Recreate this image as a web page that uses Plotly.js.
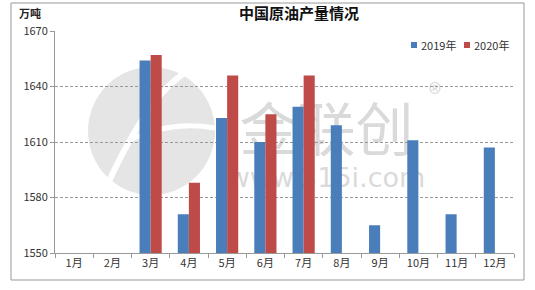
<!DOCTYPE html>
<html><head><meta charset="utf-8">
<script src="https://cdn.plot.ly/plotly-3.0.1.min.js"></script>
<style>html,body{margin:0;padding:0;background:#fff}#chart{width:535px;height:290px}</style>
</head><body><div id="chart"></div>
<script>
const months = ['1月','2月','3月','4月','5月','6月','7月','8月','9月','10月','11月','12月'];
const prod2019 = [null,null,1654,1571,1623,1610,1629,1619,1565,1611,1571,1607];
const prod2020 = [null,null,1657,1588,1646,1625,1646,null,null,null,null,null];
const yTicks = [1550,1580,1610,1640,1670];
const seriesNames = ['2019年','2020年'];
const seriesColors = ['#4A7EBB','#BE4B48'];

const W=535,H=290,L=55,R=514,T=31,B=253;
const px=x=>(x-L)/(R-L), py=y=>(B-y)/(B-T);
const font='"Noto Sans CJK SC", "Noto Sans", sans-serif';

const traces=[
 {type:'bar',x:months,y:prod2019,name:seriesNames[0],marker:{color:seriesColors[0]}},
 {type:'bar',x:months,y:prod2020,name:seriesNames[1],marker:{color:seriesColors[1]}}
];
// compact legend (Excel style): small squares + labels
const legX=[411,464], legY=45;
const legShapes=seriesNames.map((n,i)=>({type:'rect',xref:'paper',yref:'paper',x0:px(legX[i]),x1:px(legX[i]+6),y0:py(legY+3),y1:py(legY-3),line:{width:0},fillcolor:seriesColors[i]}));
const legAnn=seriesNames.map((n,i)=>({text:n,xref:'paper',yref:'paper',x:px(legX[i]+8),y:py(legY),xanchor:'left',yanchor:'middle',showarrow:false,font:{size:11,color:'#333'}}));

const layout={
 width:W,height:H,margin:{l:L,r:W-R,t:T,b:H-B},
 paper_bgcolor:'#fff',plot_bgcolor:'rgba(0,0,0,0)',
 font:{family:font,size:11,color:'#333'},
 showlegend:false,
 barmode:'group',bargap:0.42,bargroupgap:0,
 title:{text:'<b>中国原油产量情况</b>',x:299/W,xanchor:'center',y:1-14/H,yanchor:'middle',font:{size:15,color:'#111',family:font}},
 xaxis:{type:'category',showgrid:false,showline:true,linecolor:'#999',linewidth:1,ticks:'outside',tickson:'boundaries',ticklen:4,tickcolor:'#999',tickfont:{size:11,color:'#333'},fixedrange:true},
 yaxis:{range:[1550,1670],tickvals:yTicks,showgrid:true,gridcolor:'#999',griddash:'3px,2px',gridwidth:1,showline:true,linecolor:'#999',linewidth:1,ticks:'outside',ticklen:4,tickcolor:'#999',zeroline:false,tickfont:{size:11,color:'#333'}},
 annotations:[
  {text:'<b>万吨</b>',xref:'paper',yref:'paper',x:px(30),y:py(13),xanchor:'center',yanchor:'middle',showarrow:false,font:{size:11,color:'#222'}},
  ...legAnn
 ],
 shapes:[
  {type:'rect',xref:'paper',yref:'paper',x0:px(11),x1:px(524),y0:py(280),y1:py(3),line:{color:'#999',width:1},fillcolor:'rgba(0,0,0,0)',layer:'below'},
  {type:'circle',xref:'paper',yref:'paper',x0:px(88),x1:px(215),y0:py(195),y1:py(67),line:{width:0},fillcolor:'#e5e5e5',layer:'below'},
  {type:'path',xref:'paper',yref:'paper',path:`M ${px(105)} ${py(190)} Q ${px(150)} ${py(90)} ${px(190)} ${py(70)}`,line:{color:'#fff',width:6},layer:'below'},
  {type:'path',xref:'paper',yref:'paper',path:`M ${px(130)} ${py(140)} Q ${px(170)} ${py(120)} ${px(215)} ${py(128)}`,line:{color:'#fff',width:5},layer:'below'},
  {type:'rect',xref:'paper',yref:'paper',x0:px(228),x1:px(425),y0:py(165),y1:py(105),line:{width:0},fillcolor:'rgba(0,0,0,0)',layer:'below',
   label:{text:'金联创',font:{size:58,color:'#dadada',family:font},textposition:'middle center'}},
  {type:'rect',xref:'paper',yref:'paper',x0:px(228),x1:px(425),y0:py(190),y1:py(160),line:{width:0},fillcolor:'rgba(0,0,0,0)',layer:'below',
   label:{text:'www.315i.com',font:{size:27,color:'#dadada',family:'"DejaVu Sans", sans-serif'},textposition:'middle center'}},
  {type:'rect',xref:'paper',yref:'paper',x0:px(420),x1:px(450),y0:py(110),y1:py(80),line:{width:0},fillcolor:'rgba(0,0,0,0)',layer:'below',
   label:{text:'®',font:{size:26,color:'#dadada',family:font},textposition:'middle center'}},
  ...legShapes
 ]
};
Plotly.newPlot('chart',traces,layout,{displayModeBar:false,staticPlot:true});
</script></body></html>
